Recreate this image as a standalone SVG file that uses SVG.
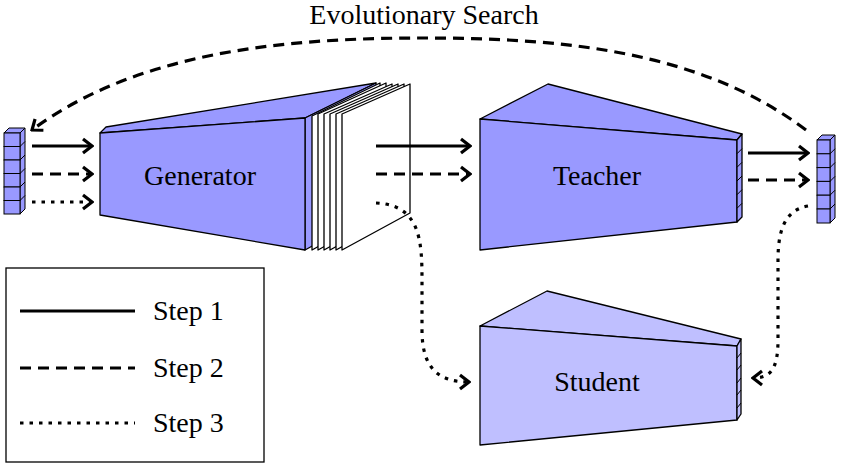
<svg xmlns="http://www.w3.org/2000/svg" width="842" height="466" viewBox="0 0 842 466">
<defs>
<style>
text{font-family:'Liberation Serif','Times New Roman','DejaVu Serif',serif;font-size:28px;fill:#000}
.s{stroke:#000;stroke-width:1.3;stroke-linejoin:round}
.c{fill:none;stroke:#000;stroke-width:3.2}
.d{stroke-dasharray:11 7}
.o{stroke-dasharray:3.5 6}
.cell{fill:#9999ff;stroke:#000;stroke-width:1}
</style>
<marker id="h" viewBox="-12 -9 14 18" refX="0" refY="0" markerWidth="14" markerHeight="18" orient="auto" markerUnits="userSpaceOnUse">
<path d="M-9,-7 L0,0 L-9,7" fill="none" stroke="#000" stroke-width="3.2"/>
</marker>
</defs>
<rect width="842" height="466" fill="#fff"/>

<g id="input">
<polygon points="4,133 9,128 25,128 20,133" class="cell"/>
<polygon points="20,133 25,128 25,209 20,214" class="cell"/>
<rect x="4" y="133" width="16" height="13.5" class="cell"/>
<rect x="4" y="146.5" width="16" height="13.5" class="cell"/>
<rect x="4" y="160" width="16" height="13.5" class="cell"/>
<rect x="4" y="173.5" width="16" height="13.5" class="cell"/>
<rect x="4" y="187" width="16" height="13.5" class="cell"/>
<rect x="4" y="200.5" width="16" height="13.5" class="cell"/>
<path d="M20,146.5 l5,-5 M20,160 l5,-5 M20,173.5 l5,-5 M20,187 l5,-5 M20,200.5 l5,-5" stroke="#000" stroke-width="1"/>
</g>

<g id="generator">
<polygon points="100,133 106,127 376,83 305,118" fill="#9999ff" class="s"/>
<polygon points="305,118 376,83 376,211 305,250" fill="#9999ff" class="s"/>
<polygon points="312,116 380,83 380,212 312,250" fill="#fff" class="s"/>
<polygon points="318,114 386,83 386,212 318,250" fill="#fff" class="s"/>
<polygon points="324,114 392,84 392,212 324,250" fill="#fff" class="s"/>
<polygon points="330,114 398,84 398,212 330,250" fill="#fff" class="s"/>
<polygon points="336,114 404,84 404,212 336,250" fill="#fff" class="s"/>
<polygon points="342,114 410,84 410,213 342,250" fill="#fff" class="s"/>
<polygon points="100,133 305,118 305,250 100,215" fill="#9999ff" class="s"/>
<text x="200" y="185" text-anchor="middle">Generator</text>
</g>

<g id="teacher">
<polygon points="480,119 548,84 742,134 737,140" fill="#9999ff" class="s"/>
<polygon points="480,119 737,140 737,222 480,250" fill="#9999ff" class="s"/>
<polygon points="737,140 742,134 742,217 737,222" fill="#9999ff" class="s"/>
<path d="M737,153.7 l5,-5 M737,167.3 l5,-5 M737,181 l5,-5 M737,194.7 l5,-5 M737,208.3 l5,-5" stroke="#000" stroke-width="1"/>
<text x="597" y="185" text-anchor="middle">Teacher</text>
</g>

<g id="student">
<polygon points="480,326 547,291 741,339 737,346" fill="#bfbfff" class="s"/>
<polygon points="480,326 737,346 737,420 480,445" fill="#bfbfff" class="s"/>
<polygon points="737,346 741,339 741,414 737,420" fill="#bfbfff" class="s"/>
<path d="M737,358 l4,-5 M737,370 l4,-5 M737,383 l4,-5 M737,395 l4,-5 M737,408 l4,-5" stroke="#000" stroke-width="1"/>
<text x="597" y="391" text-anchor="middle">Student</text>
</g>

<g id="output">
<polygon points="817,140 822,135 835,135 830,140" class="cell"/>
<polygon points="830,140 835,135 835,218 830,223" class="cell"/>
<rect x="817" y="140" width="13" height="13.8" class="cell"/>
<rect x="817" y="153.8" width="13" height="13.8" class="cell"/>
<rect x="817" y="167.6" width="13" height="13.8" class="cell"/>
<rect x="817" y="181.4" width="13" height="13.8" class="cell"/>
<rect x="817" y="195.2" width="13" height="13.8" class="cell"/>
<rect x="817" y="209" width="13" height="14" class="cell"/>
<path d="M830,153.8 l5,-5 M830,167.6 l5,-5 M830,181.4 l5,-5 M830,195.2 l5,-5 M830,209 l5,-5" stroke="#000" stroke-width="1"/>
</g>

<g id="connectors">
<path d="M32,146 H92" class="c" marker-end="url(#h)"/>
<path d="M32,174 H92" class="c d" marker-end="url(#h)"/>
<path d="M32,202 H92" class="c o" marker-end="url(#h)"/>
<path d="M376,146 H470" class="c" marker-end="url(#h)"/>
<path d="M376,174 H470" class="c d" marker-end="url(#h)"/>
<path d="M376,203 C420,205 422,240 422,280 L422,330 C422,370 440,382 469,382" class="c o" marker-end="url(#h)"/>
<path d="M748,153 H808" class="c" marker-end="url(#h)"/>
<path d="M748,180 H808" class="c d" marker-end="url(#h)"/>
<path d="M808,206 C785,210 778,230 778,260 L778,340 C778,370 770,378 753,378" class="c o" marker-end="url(#h)"/>
<path d="M806,130 C700,50 560,38 424,38 C290,38 140,50 32,130" class="c d" marker-end="url(#h)"/>
</g>
<text x="424" y="24" text-anchor="middle" font-size="26">Evolutionary Search</text>

<g id="legend">
<rect x="6" y="268" width="258" height="194" fill="#fff" stroke="#000" stroke-width="1.3"/>
<path d="M20,311 H135" class="c"/>
<path d="M20,368 H135" class="c d"/>
<path d="M20,423 H135" class="c o"/>
<text x="153" y="320">Step 1</text>
<text x="153" y="377">Step 2</text>
<text x="153" y="432">Step 3</text>
</g>
</svg>
